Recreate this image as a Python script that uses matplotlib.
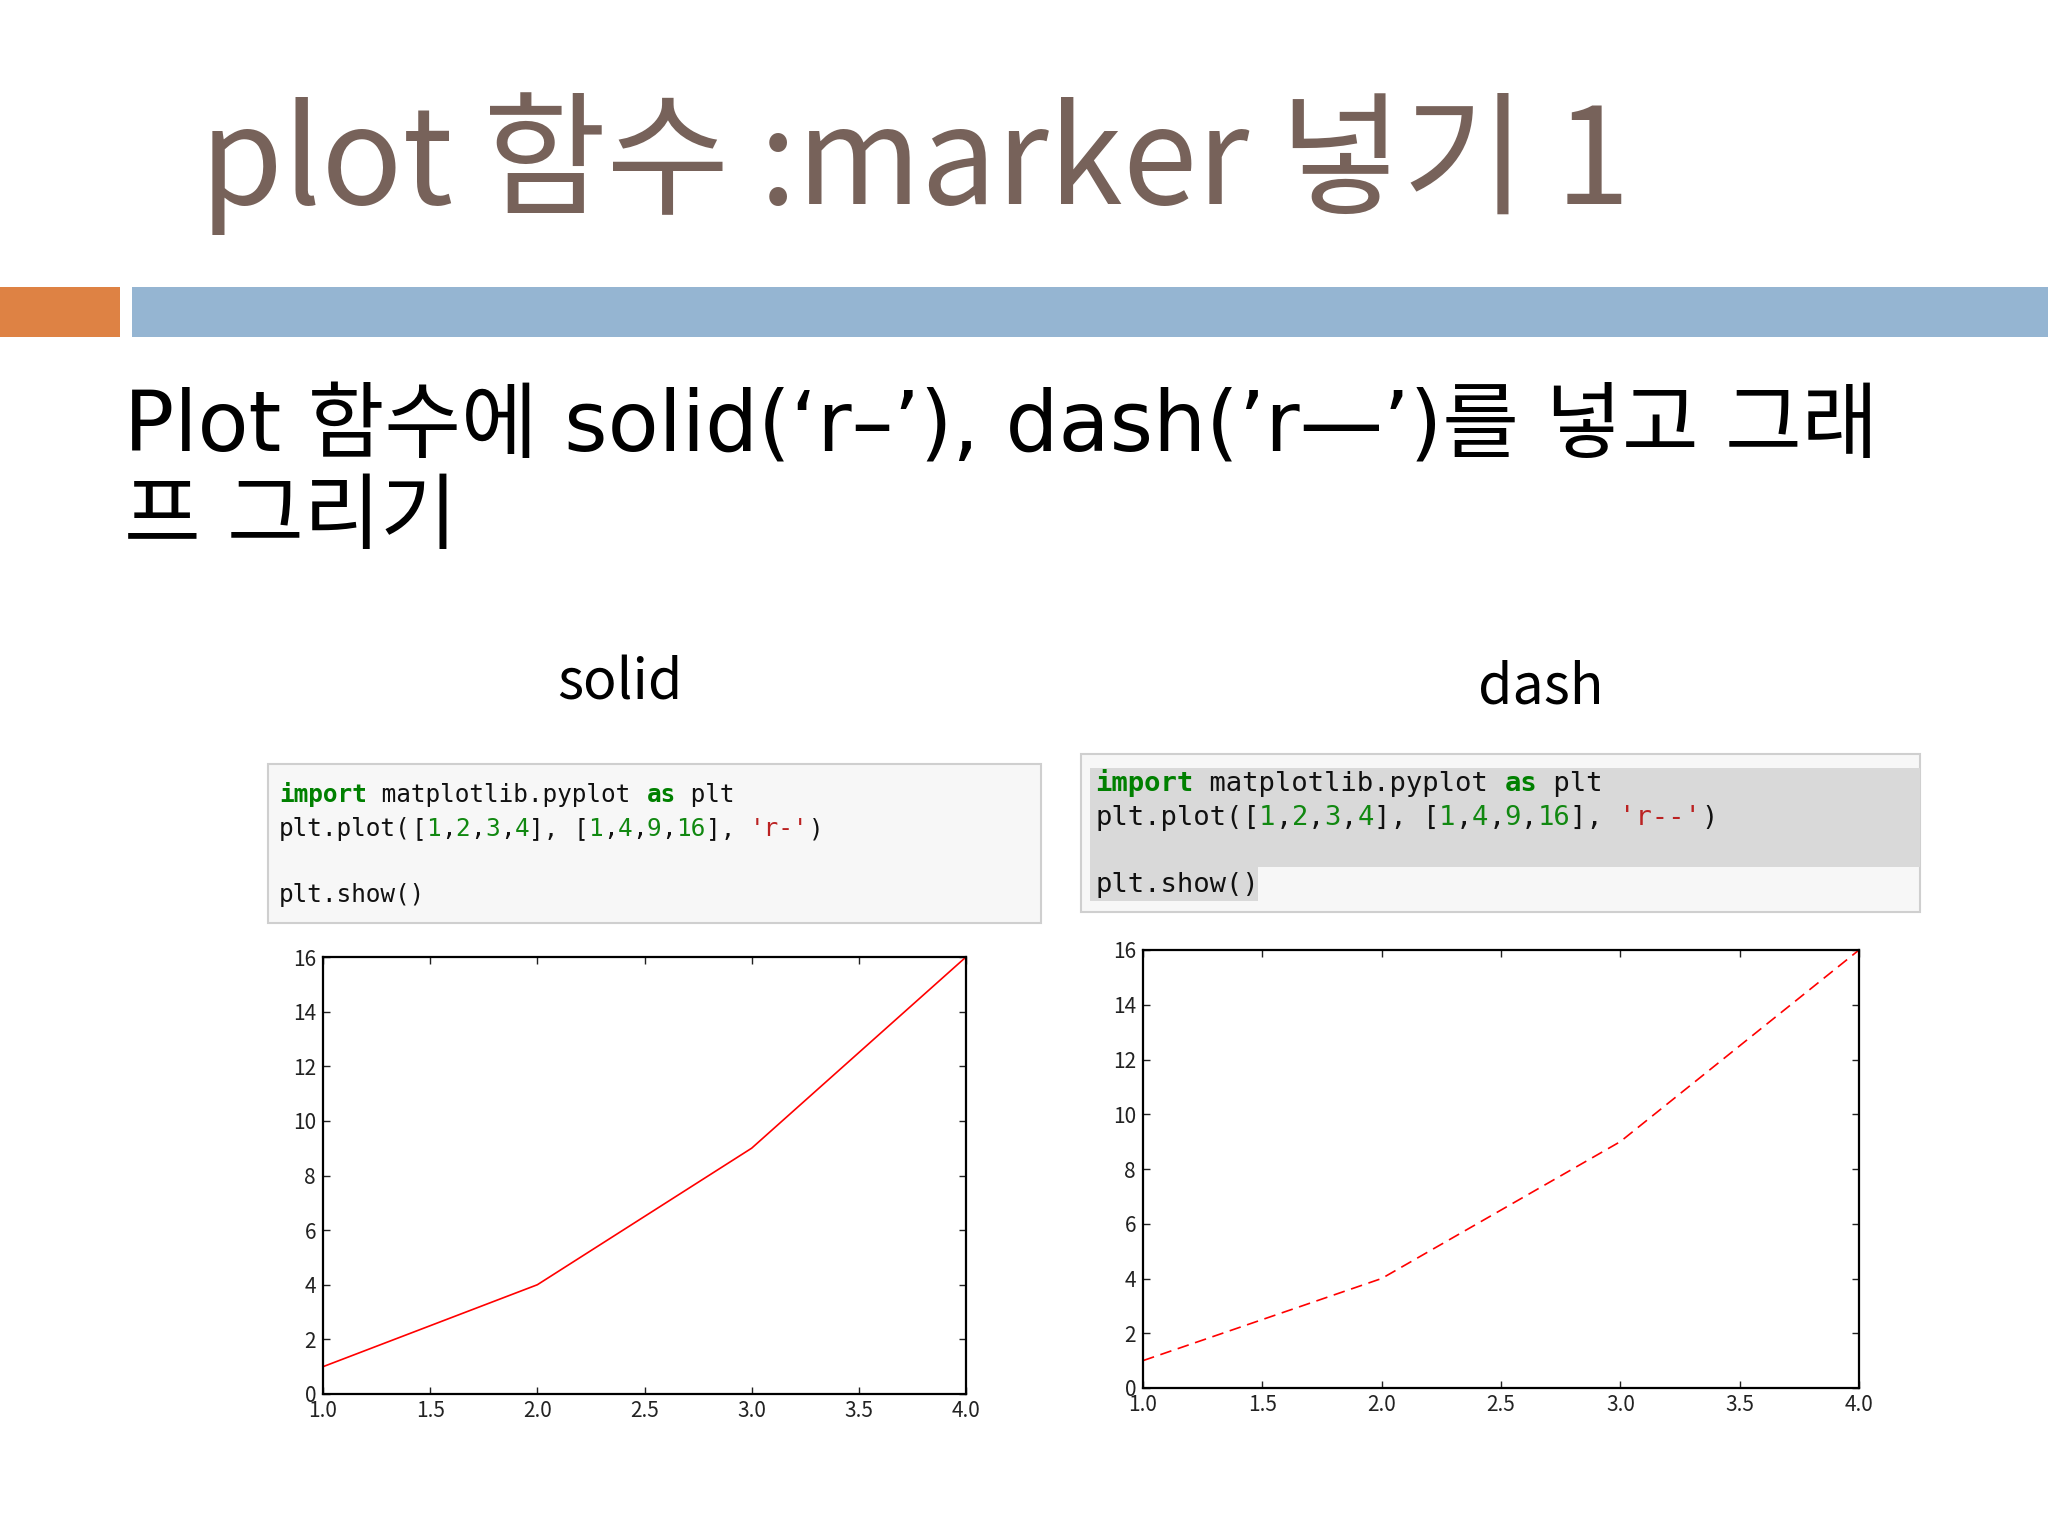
import matplotlib
matplotlib.use("Agg")
import matplotlib.pyplot as plt
from matplotlib.patches import Rectangle

plt.rcParams['font.family'] = ['Noto Sans CJK KR', 'DejaVu Sans']

# ---- data ----
x_vals = [1, 2, 3, 4]
y_vals = [1, 4, 9, 16]
x_ticks = [1.0, 1.5, 2.0, 2.5, 3.0, 3.5, 4.0]
y_ticks = [0, 2, 4, 6, 8, 10, 12, 14, 16]
title_text = "plot 함수 :marker 넣기 1"
subtitle_lines = ["Plot 함수에 solid(‘r–’), dash(’r—’)를 넣고 그래", "프 그리기"]
panel_titles = ["solid", "dash"]
code_solid = [
    [("import", "kw"), (" matplotlib.pyplot ", "n"), ("as", "kw"), (" plt", "n")],
    [("plt.plot(", "n"), ("[", "n"), ("1", "num"), (",", "n"), ("2", "num"), (",", "n"),
     ("3", "num"), (",", "n"), ("4", "num"), ("], ", "n"), ("[", "n"), ("1", "num"), (",", "n"),
     ("4", "num"), (",", "n"), ("9", "num"), (",", "n"), ("16", "num"), ("], ", "n"),
     ("'r-'", "str"), (")", "n")],
    [],
    [("plt.show()", "n")],
]
code_dash = [
    [("import", "kw"), (" matplotlib.pyplot ", "n"), ("as", "kw"), (" plt", "n")],
    [("plt.plot(", "n"), ("[", "n"), ("1", "num"), (",", "n"), ("2", "num"), (",", "n"),
     ("3", "num"), (",", "n"), ("4", "num"), ("], ", "n"), ("[", "n"), ("1", "num"), (",", "n"),
     ("4", "num"), (",", "n"), ("9", "num"), (",", "n"), ("16", "num"), ("], ", "n"),
     ("'r--'", "str"), (")", "n")],
    [],
    [("plt.show()", "n")],
]

W, H = 2048, 1536
DPI = 100
fig = plt.figure(figsize=(W / DPI, H / DPI), dpi=DPI)
fig.patch.set_facecolor("white")


def fx(px):
    return px / W


def fy(py):
    return 1 - py / H


def rect(x0, y0, x1, y1, **kw):
    fig.patches.append(Rectangle((fx(x0), fy(y1)), fx(x1) - fx(x0), (y1 - y0) / H,
                                 transform=fig.transFigure, **kw))


# title
fig.text(fx(200), fy(204), title_text, fontsize=96.5, color="#77625A", ha="left", va="baseline")

# bars
rect(0, 287, 120, 337, facecolor="#DE8244", edgecolor="none")
rect(132, 287, 2048, 337, facecolor="#95B5D2", edgecolor="none")

# subtitle
sub_family = ["DejaVu Sans", "Noto Sans CJK KR"]
fig.text(fx(124), fy(451), subtitle_lines[0], fontsize=60, color="black", ha="left",
         va="baseline", family=sub_family)
fig.text(fx(124), fy(542), subtitle_lines[1], fontsize=60, color="black", ha="left",
         va="baseline", family=sub_family)

# panel titles
fig.text(fx(620), fy(699), panel_titles[0], fontsize=40, ha="center", va="baseline")
fig.text(fx(1541), fy(703), panel_titles[1], fontsize=40, ha="center", va="baseline")

# code boxes
rect(268, 764, 1041, 923, facecolor="#F7F7F7", edgecolor="#CFCFCF", linewidth=1.5)
rect(1081, 754, 1920, 912, facecolor="#F7F7F7", edgecolor="#CFCFCF", linewidth=1.5)
rect(1090, 768, 1920, 867, facecolor="#D9D9D9", edgecolor="none")
rect(1090, 867, 1258, 901, facecolor="#D9D9D9", edgecolor="none")

colors = {"kw": "#008000", "n": "#111111", "num": "#118811", "str": "#BB2222"}


def draw_code(lines, x0, baselines, fs):
    cw = 0.602 * fs * DPI / 72
    for line, by in zip(lines, baselines):
        col = 0
        for tok, kind in line:
            fig.text(fx(x0 + col * cw), fy(by), tok, fontsize=fs, family="DejaVu Sans Mono",
                     color=colors[kind], fontweight="bold" if kind == "kw" else "normal",
                     ha="left", va="baseline")
            col += len(tok)


draw_code(code_solid, 279, [802, 836, 869, 902], 17.6)
draw_code(code_dash, 1095, [791, 825, 858, 892], 19.6)


def make_axes(x0, y0, x1, y1, style):
    ax = fig.add_axes([fx(x0), fy(y1), fx(x1) - fx(x0), (y1 - y0) / H])
    if style == "solid":
        ax.plot(x_vals, y_vals, color="#FF0000", linewidth=1.2)
    else:
        ax.plot(x_vals, y_vals, color="#FF0000", linewidth=1.2, dashes=[7, 4])
    ax.set_xlim(1.0, 4.0)
    ax.set_ylim(0, 16)
    ax.set_xticks(x_ticks)
    ax.set_yticks(y_ticks)
    ax.set_xticklabels([f"{v:.1f}" for v in x_ticks])
    ax.set_yticklabels([str(v) for v in y_ticks])
    ax.tick_params(direction="in", length=5, width=1, top=True, right=True,
                   labelsize=15, colors="#222222")
    ax.tick_params(axis="x", pad=4.5)
    ax.tick_params(axis="y", pad=5)
    for s in ax.spines.values():
        s.set_linewidth(1.6)
        s.set_color("black")
    return ax


make_axes(323, 957, 966, 1394, "solid")
make_axes(1143, 950, 1859, 1388, "dash")

fig.savefig("out.png", dpi=DPI)
